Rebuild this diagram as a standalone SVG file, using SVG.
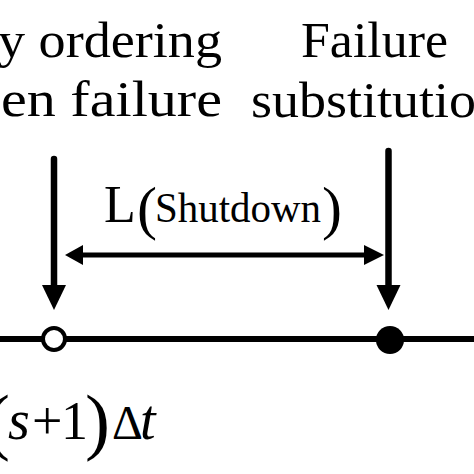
<svg xmlns="http://www.w3.org/2000/svg" width="474" height="474" viewBox="0 0 474 474">
<style>
text{font-family:"Liberation Serif","Times New Roman",serif;fill:#000}
.lbl{font-size:50px}
.ln{stroke:#000;fill:none}
.head{fill:#000}
</style>
<rect width="474" height="474" fill="#fff"/>
<g id="label-left">
<text class="lbl" x="-2" y="57" textLength="224" lengthAdjust="spacingAndGlyphs">y ordering</text>
<text class="lbl" x="1" y="116" textLength="221" lengthAdjust="spacingAndGlyphs">en failure</text>
</g>
<g id="label-right">
<text class="lbl" x="301" y="57" textLength="147" lengthAdjust="spacingAndGlyphs">Failure</text>
<text class="lbl" x="251" y="117" textLength="225" lengthAdjust="spacingAndGlyphs">substitutio</text>
</g>
<g id="label-L">
<text x="104" y="222" font-size="52">L</text>
<text x="137" y="228" font-size="60">(</text>
<text x="155" y="222" font-size="42" textLength="166" lengthAdjust="spacingAndGlyphs">Shutdown</text>
<text x="322" y="228" font-size="60">)</text>
</g>
<g id="label-time">
<text x="-15" y="446" font-size="75">(</text>
<text x="8" y="439" font-size="56" font-style="italic">s</text>
<text x="32" y="439" font-size="54">+</text>
<text x="61" y="439" font-size="54">1</text>
<text x="85" y="446" font-size="75">)</text>
<text x="112" y="439" font-size="48">Δ</text>
<text x="140" y="439" font-size="56" font-style="italic">t</text>
</g>
<g id="connectors">
<line class="ln" x1="0" y1="339" x2="474" y2="339" stroke-width="6"/>
<line class="ln" x1="54" y1="159" x2="54" y2="290" stroke-width="6.5" stroke-linecap="round"/>
<polygon class="head" points="42,285 66,285 54,310"/>
<line class="ln" x1="388.5" y1="151" x2="388.5" y2="290" stroke-width="6.5" stroke-linecap="round"/>
<polygon class="head" points="376.5,285 400.5,285 388.5,310"/>
<line class="ln" x1="80" y1="255" x2="368" y2="255" stroke-width="5"/>
<polygon class="head" points="65,255 83,245 83,265"/>
<polygon class="head" points="384,255 364,245 364,265"/>
</g>
<g id="node-open">
<circle cx="54" cy="339" r="11" fill="#fff" stroke="#000" stroke-width="4"/>
</g>
<g id="node-filled">
<circle cx="390" cy="340" r="14" fill="#000"/>
</g>
</svg>
